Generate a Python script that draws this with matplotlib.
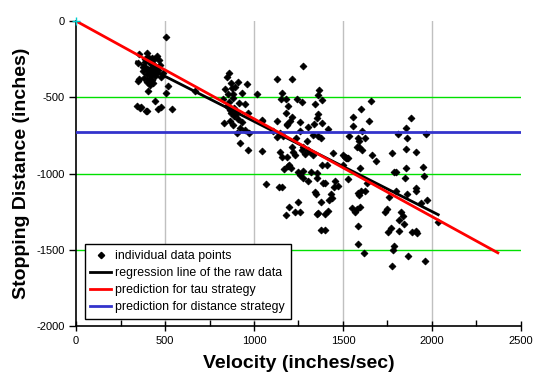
import matplotlib
matplotlib.use("Agg")
import matplotlib.pyplot as plt
from matplotlib.lines import Line2D

plt.rcParams['font.family'] = ['Liberation Sans', 'DejaVu Sans']

# individual data points (velocity, stopping distance)
vel = [356, 400, 406, 453, 466, 350, 378, 406, 434, 462, 490, 384, 346, 354, 425, 434, 416, 519, 406, 506,
       444, 341, 360, 393, 462, 476, 541, 507, 397, 363,
       390, 410, 420, 440, 395, 415, 430, 450, 445, 400, 420, 375, 470, 480, 410, 440, 425, 385, 455, 400,
       669, 861, 847, 869, 912, 893, 837, 959, 875, 931, 884, 852, 1019, 828, 884, 918, 949, 888, 968, 902,
       865, 833, 865, 884, 921, 949, 906, 974, 921, 968,
       850, 870, 890, 910, 930, 900, 860,
       1043, 1108, 1127, 1180, 1187, 1146, 1165, 1043, 1146, 1155, 1187, 1170, 1193, 1067, 1142, 1159, 1197,
       1127, 1155, 1150, 1180, 1215, 1240, 1193, 1215, 1202, 1127, 1184, 1236, 1211, 1221, 1230, 1198, 1206,
       1249, 1249, 1230, 1180, 1043,
       1277, 1268, 1367, 1362, 1380, 1343, 1362, 1356, 1258, 1305, 1339, 1380, 1418, 1258, 1330, 1362, 1376,
       1299, 1268, 1287, 1301, 1277, 1315, 1334, 1446, 1380, 1408, 1258, 1277, 1319, 1277, 1301, 1352, 1356,
       1399, 1386, 1455, 1470, 1449, 1343, 1348, 1431, 1437, 1421, 1375, 1258, 1362, 1418, 1352, 1399, 1376, 1399,
       1558, 1558, 1583, 1592, 1502, 1517, 1526, 1530, 1549, 1577, 1586, 1583, 1583, 1648, 1605, 1535, 1624,
       1592, 1577, 1605, 1661, 1511, 1524, 1685, 1502, 1596, 1633, 1599, 1624, 1592, 1596, 1567, 1618, 1657, 1601,
       1882, 1852, 1807, 1857, 1966, 1777, 1854, 1908, 1788, 1798, 1854, 1948, 1848, 1957, 1760, 1798, 1861,
       1910, 1910, 1974, 1937, 1745, 1736, 1824, 1839, 1817, 1843, 2036, 1770, 1751, 1817, 1886, 1910, 1918,
       1787, 1783, 1867, 1961, 1777]
dist = [-216, -208, -234, -230, -256, -278, -300, -321, -343, -321, -339, -372, -393, -383, -387, -409, -420, -426, -457, -474,
        -525, -557, -573, -590, -577, -566, -577, -107, -588, -566,
        -250, -265, -280, -290, -310, -330, -300, -310, -360, -345, -355, -330, -290, -370, -380, -250, -240, -270, -340, -400,
        -459, -339, -365, -404, -398, -431, -448, -413, -441, -470, -481, -481, -481, -513, -503, -540, -546, -568, -605, -605,
        -584, -667, -656, -682, -704, -715, -736, -736, -802, -846,
        -560, -600, -620, -640, -660, -590, -530,
        -654, -719, -759, -605, -677, -736, -754, -851, -857, -894, -890, -973, -951, -1071, -1087, -1087, -1218,
        -380, -474, -513, -513, -380, -513, -555, -627, -656, -656, -682, -765, -824, -857, -879, -944, -962,
        -992, -1185, -1250, -1272, -649,
        -293, -529, -452, -485, -518, -546, -612, -638, -660, -693, -675, -671, -708, -721, -748, -752, -765,
        -787, -846, -874, -846, -824, -857, -879, -868, -944, -944, -1010, -984, -992, -1027, -1049, -994, -1027,
        -1064, -1064, -1049, -1082, -1087, -1119, -1137, -1137, -1159, -1174, -1189, -1250, -1261, -1246, -1268, -1268, -1370, -1370,
        -631, -686, -769, -824, -879, -896, -900, -1038, -1224, -1235, -1130, -1344, -1465, -656, -721, -754, -769,
        -785, -824, -846, -879, -894, -900, -918, -944, -966, -1064, -1115, -1115, -1141, -1222, -1250, -1523, -522, -575,
        -638, -700, -741, -769, -741, -868, -841, -857, -988, -992, -966, -959, -1032, -1016, -1156, -1115, -1134,
        -1097, -1113, -1174, -1195, -1233, -1250, -1250, -1279, -1305, -1333, -1316, -1359, -1381, -1377, -1381, -1375, -1388,
        -1475, -1502, -1539, -1574, -1605]

# regression line of the raw data
reg_x = [340, 2035]
reg_y = [-268, -1270]
# prediction for tau strategy
tau_x = [0, 2370]
tau_y = [0, -1520]
# prediction for distance strategy
dist_level = -725

x_ticks = [0, 500, 1000, 1500, 2000, 2500]
y_ticks = [0, -500, -1000, -1500, -2000]
green_levels = [-500, -1000, -1500]
grid_x = [500, 1000, 1500, 2000]

fig = plt.figure(figsize=(5.48, 3.80), dpi=100)
ax = fig.add_axes([0.1387, 0.1421, 0.812, 0.8026])
ax.set_xlim(0, 2500)
ax.set_ylim(-2000, 0)

for gx in grid_x:
    ax.axvline(gx, color='#c0c0c0', lw=1.0, zorder=1)
for gy in green_levels:
    ax.axhline(gy, color='#00e000', lw=1.0, zorder=1)

ax.scatter(vel, dist, marker='D', s=12, color='black', linewidths=0.6, edgecolors='black', zorder=2)
ax.plot(reg_x, reg_y, color='black', lw=2, zorder=3)
ax.plot(tau_x, tau_y, color='red', lw=2, zorder=4)
ax.axhline(dist_level, color='#3333cc', lw=2, zorder=3)
ax.plot([0], [0], marker='+', color='#00cccc', ms=6, clip_on=False, zorder=5)

for s in ['top', 'right']:
    ax.spines[s].set_visible(False)
ax.spines['left'].set_linewidth(1.2)
ax.spines['bottom'].set_linewidth(1.2)

ax.set_xticks(x_ticks)
ax.set_xticklabels([str(t) for t in x_ticks])
ax.set_xticks([250, 750, 1250, 1750, 2250], minor=True)
ax.set_yticks(y_ticks)
ax.set_yticklabels([str(t) for t in y_ticks])
ax.tick_params(axis='x', which='major', direction='inout', length=7, width=1, labelsize=8, pad=4)
ax.tick_params(axis='x', which='minor', direction='in', length=4, width=1)
ax.tick_params(axis='y', which='major', direction='out', length=5, width=1, labelsize=8, pad=3)

ax.set_xlabel('Velocity (inches/sec)', fontsize=14, fontweight='bold', labelpad=6)
ax.set_ylabel('Stopping Distance (inches)', fontsize=14, fontweight='bold', labelpad=5)

handles = [
    Line2D([], [], marker='D', ms=3.2, color='black', ls='none'),
    Line2D([], [], color='black', lw=2),
    Line2D([], [], color='red', lw=2),
    Line2D([], [], color='#3333cc', lw=2),
]
labels = ['individual data points', 'regression line of the raw data',
          'prediction for tau strategy', 'prediction for distance strategy']
leg = ax.legend(handles, labels, loc='lower left', bbox_to_anchor=(0.02, 0.023), fontsize=8.9,
                frameon=True, fancybox=False, shadow=False, borderaxespad=0, handlelength=1.7,
                handletextpad=0.3, labelspacing=0.42, borderpad=0.45)
leg.get_frame().set_edgecolor('black')
leg.get_frame().set_linewidth(1.0)
leg.get_frame().set_alpha(1)
leg.set_zorder(10)

fig.savefig('out.png', dpi=100)
